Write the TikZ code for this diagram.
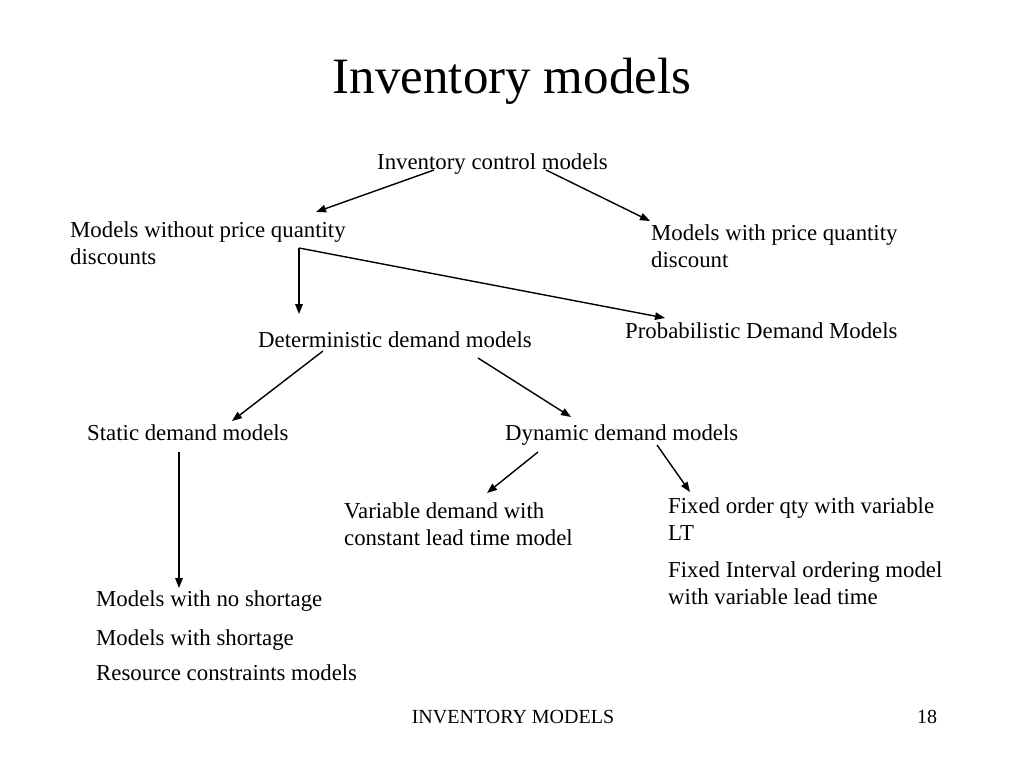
\documentclass[tikz,border=0pt]{standalone}
\usepackage{fontspec}
\setmainfont{Liberation Serif}
\usetikzlibrary{arrows.meta}
\begin{document}
\begin{tikzpicture}[x=1pt,y=-1pt,
  lbl/.style={anchor=base west,inner sep=0pt,align=left,font=\fontsize{22.8}{27}\selectfont},
  arr/.style={line width=1.4pt,-{Triangle[length=10pt,width=7.5pt]}}]
\useasboundingbox[fill=white] (0,0) rectangle (1024,768);
\node[anchor=base,inner sep=0pt,font=\fontsize{51}{60}\selectfont] (title) at (512,93) {Inventory models};
\node[lbl] (icm) at (377,169) {Inventory control models};
\node[lbl] (mwo) at (70,264) {Models without price quantity\\discounts};
\node[lbl] (mw) at (651,267) {Models with price quantity\\discount};
\node[lbl] (prob) at (625,338) {Probabilistic Demand Models};
\node[lbl] (det) at (258,347) {Deterministic demand models};
\node[lbl] (stat) at (87,440) {Static demand models};
\node[lbl] (dyn) at (505,440) {Dynamic demand models};
\node[lbl] (var) at (344,545) {Variable demand with\\constant lead time model};
\node[lbl] (foq) at (668,540) {Fixed order qty with variable\\LT};
\node[lbl] (fio) at (668,604) {Fixed Interval ordering model\\with variable lead time};
\node[lbl] (ns) at (96,606) {Models with no shortage};
\node[lbl] (ws) at (96,645) {Models with shortage};
\node[lbl] (rc) at (96,680) {Resource constraints models};
\node[anchor=base,inner sep=0pt,font=\fontsize{20}{24}\selectfont] (foot) at (513,723) {INVENTORY MODELS};
\node[anchor=base,inner sep=0pt,font=\fontsize{20}{24}\selectfont] (page) at (927,723) {18};
% connector end points
\coordinate (a1s) at (434,170); \coordinate (a1e) at (316,212);
\coordinate (a2s) at (546,170); \coordinate (a2e) at (650,221);
\coordinate (br) at (299,248);
\coordinate (a3e) at (299,314); \coordinate (a4e) at (665,318);
\coordinate (a5s) at (323,351); \coordinate (a5e) at (232,421);
\coordinate (a6s) at (478,358); \coordinate (a6e) at (571,417);
\coordinate (a7s) at (538,452); \coordinate (a7e) at (487,493);
\coordinate (a8s) at (657,445); \coordinate (a8e) at (690,492);
\coordinate (a9s) at (179,452); \coordinate (a9e) at (179,588);
\draw[arr] (a1s) -- (a1e);
\draw[arr] (a2s) -- (a2e);
\draw[arr] (br) -- (a3e);
\draw[arr] (br) -- (a4e);
\draw[arr] (a5s) -- (a5e);
\draw[arr] (a6s) -- (a6e);
\draw[arr] (a7s) -- (a7e);
\draw[arr] (a8s) -- (a8e);
\draw[arr] (a9s) -- (a9e);
\end{tikzpicture}
\end{document}
